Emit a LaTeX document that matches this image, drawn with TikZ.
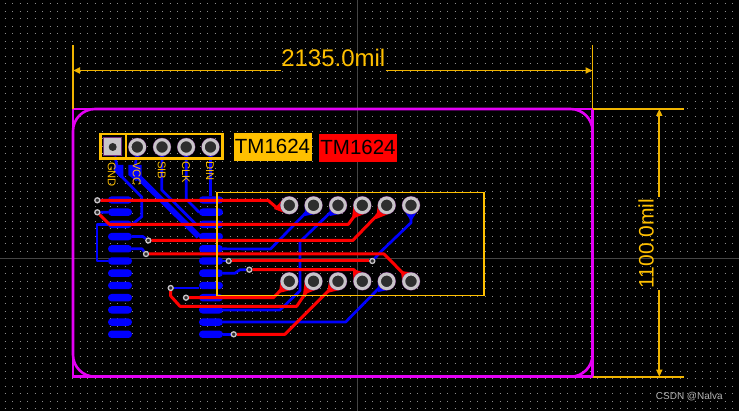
\documentclass[tikz,border=0pt]{standalone}
\usepackage{fontspec}
\setmainfont{Liberation Sans}
\usetikzlibrary{arrows.meta,calc}

\definecolor{silkyellow}{HTML}{FFC000}
\definecolor{dimyellow}{HTML}{F0B400}
\definecolor{boardmagenta}{HTML}{E400F4}
\definecolor{cublue}{HTML}{0000FF}
\definecolor{cured}{HTML}{FF0000}
\definecolor{padgray}{HTML}{C8C4C8}
\definecolor{holedark}{HTML}{2E2E2E}
\definecolor{padrim}{HTML}{70307C}
\definecolor{griddot}{HTML}{8C8C8C}
\definecolor{crossgray}{HTML}{444444}
\definecolor{marktext}{HTML}{B4B4B4}

\pgfdeclarelayer{grid}
\pgfdeclarelayer{bottomcu}
\pgfdeclarelayer{topcu}
\pgfsetlayers{grid,bottomcu,topcu,main}

\tikzset{
    griddots/.style={griddot, line width=1.2pt, dash pattern=on 1.2pt off 6.3pt},
    crosshair/.style={crossgray, line width=1pt},
    boardedge/.style={boardmagenta, line width=2.6pt},
    silk/.style={silkyellow, line width=2.2pt},
    outline/.style={silkyellow, line width=1.4pt},
    dimline/.style={dimyellow, line width=1.8pt},
    dimarrow/.style={dimline, -{Triangle[length=7pt,width=6pt]}},
    dimtext/.style={silkyellow, font=\fontsize{24}{24}\selectfont, inner sep=0pt},
    pintext/.style={silkyellow, font=\fontsize{11.2}{11.2}\selectfont, rotate=-90, anchor=west, inner sep=0pt},
    chiplabel/.style={black, font=\fontsize{20.5}{20.5}\selectfont, minimum width=78pt, minimum height=28pt, inner sep=0pt},
    pinpad/.style={circle, draw=padgray, fill=holedark, line width=3pt, minimum size=14.6pt, inner sep=0pt,
        preaction={draw=padrim, line width=3.8pt}},
    squarepad/.style={rectangle, draw=padrim, fill=padgray, line width=1pt, minimum size=18pt, inner sep=0pt},
    padhole/.style={circle, fill=holedark, minimum size=8pt, inner sep=0pt},
    viapad/.style={circle, draw=padgray, fill=holedark, line width=1.3pt, minimum size=5pt, inner sep=0pt},
    smdpad/.style={rectangle, fill=cublue, rounded corners=3.6pt, minimum width=24pt, minimum height=7.4pt, inner sep=0pt},
    bluetrace/.style={cublue, line width=2.7pt, line join=round},
    redtrace/.style={cured, line width=3pt, line join=round},
    vcctrace/.style={cublue, line width=5.6pt}
}

\newcommand{\teardrop}[3]{
    \fill[#1] (tangent cs:node=#2,point={#3},solution=1) -- #3
        -- (tangent cs:node=#2,point={#3},solution=2) -- cycle;
}

\begin{document}
\begin{tikzpicture}[x=1pt, y=-1pt]
        \useasboundingbox (0, 0) rectangle (739, 411);

        \begin{pgfonlayer}{grid}
            \fill[black] (0, 0) rectangle (739, 411);
            \foreach \k in {0, ..., 54} {
                \draw[griddots] (4.5, 3.7 + 7.5 * \k) -- (739, 3.7 + 7.5 * \k);
            }
            \draw[crosshair] (0, 259) -- (739, 259);
            \draw[crosshair] (357.7, 0) -- (357.7, 411);
        \end{pgfonlayer}

        \node[squarepad] (gnd) at (112.7, 147) {};
        \node[padhole] (gndhole) at (gnd) {};
        \node[pinpad] (vcc) at (137.3, 147) {};
        \node[pinpad] (sib) at (162, 147) {};
        \node[pinpad] (clk) at (186.2, 147) {};
        \node[pinpad] (din) at (210.5, 147) {};

        \foreach \n/\xpos in {1/289.3, 2/313.5, 3/338, 4/362.3, 5/386.7, 6/411} {
            \node[pinpad] (a\n) at (\xpos, 205.3) {};
            \node[pinpad] (b\n) at (\xpos, 281.3) {};
        }

        \node[viapad] (v1) at (97.3, 200.3) {};
        \node[viapad] (v2) at (97.3, 212.3) {};
        \node[viapad] (v3) at (148.3, 240.5) {};
        \node[viapad] (v4) at (146, 254) {};
        \node[viapad] (v5) at (228.7, 261) {};
        \node[viapad] (v6) at (249.3, 269.7) {};
        \node[viapad] (v7) at (170.7, 288) {};
        \node[viapad] (v8) at (186, 297.7) {};
        \node[viapad] (v9) at (233.7, 334.3) {};
        \node[viapad] (v10) at (372.3, 261) {};

        \begin{pgfonlayer}{bottomcu}
            \foreach \n/\ypos in {1/200, 2/212.2, 3/224.4, 4/236.6, 5/248.8, 6/261, 7/273.2, 8/285.5, 9/297.7, 10/309.9, 11/322.1, 12/334.3} {
                \node[smdpad] (l\n) at (120, \ypos) {};
                \node[smdpad] (r\n) at (211, \ypos) {};
            }

            \fill[cublue] (114, 165) -- (123.3, 165) -- (123.3, 177) -- (120.5, 178) -- (114, 171) -- cycle;
            \fill[cublue] (128.3, 165) -- (141.7, 165) -- (141.7, 178) -- (136, 181) -- (128.3, 175) -- cycle;
            \draw[bluetrace] (gnd) -- (118, 170);
            \draw[bluetrace] (vcc) -- (135, 170);
            \draw[vcctrace] (137, 175.5) -- (r4.west);
            \draw[bluetrace] (120, 175) -- (141.7, 197) -- (141.7, 216.7) -- (l3.east);

            \draw[bluetrace] (sib) -- (161.7, 190) -- (196, 224.4) -- (r3);
            \draw[bluetrace] (clk) -- (186.2, 199) -- (199, 212.2) -- (r2);
            \draw[bluetrace] (din) -- (din |- r1.north);
            \teardrop{cublue}{vcc}{(137.3, 158)}
            \teardrop{cublue}{sib}{(162, 158)}
            \teardrop{cublue}{clk}{(186.2, 158)}
            \teardrop{cublue}{din}{(210.5, 158)}

            \draw[bluetrace] (l3) -- (97, 224.4) -- (97, 261) -- (l6);
            \draw[bluetrace] (l1) -- (v1);
            \draw[bluetrace] (l2) -- (v2);
            \draw[bluetrace] (l4) -- (143, 236.6) -- (v3);
            \draw[bluetrace] (l5) -- (142, 248.8) -- (v4);

            \draw[bluetrace] (r5) -- (270.5, 249) -- (310, 208.5) -- (a2);
            \draw[bluetrace] (r6) -- (v5);
            \draw[bluetrace] (r7) -- (235, 273.2) -- (240, 269.7) -- (v6);
            \draw[bluetrace] (v7) -- (v7 -| r8.west);
            \draw[bluetrace] (r9) -- (v8);
            \draw[bluetrace] (r10) -- (280, 310) -- (300, 290.7) -- (300, 241.7) -- (332, 211) -- (a3);
            \draw[bluetrace] (r11) -- (345.7, 322) -- (380, 287) -- (b5);
            \draw[bluetrace] (r12) -- (v9);
            \draw[bluetrace] (a6) -- (411, 222.7) -- (380.5, 252) -- (v10);
            \teardrop{cublue}{a2}{(305, 216)}
            \teardrop{cublue}{a3}{(330, 216)}
            \teardrop{cublue}{a6}{(411, 221)}
            \teardrop{cublue}{b5}{(378, 292)}
        \end{pgfonlayer}

        \begin{pgfonlayer}{topcu}
            \draw[redtrace] (v1) -- (268, 200.3) -- (277, 208) -- (a1);
            \draw[redtrace] (v2) -- (109.3, 224.3) -- (348.3, 224.3) -- (a4);
            \draw[redtrace] (v3) -- (352.7, 240.5) -- (a5);
            \draw[redtrace] (v4) -- (384, 254) -- (b6);
            \draw[redtrace] (v5) -- (v10);
            \draw[redtrace] (v6) -- (354, 269.7) -- (b4);
            \draw[redtrace] (v8) -- (273.3, 297.7) -- (b1);
            \draw[redtrace] (v7) -- (170.7, 296) -- (180, 306.3) -- (296.7, 306.3) -- (b2);
            \draw[redtrace] (v9) -- (285, 334.3) -- (b3);
            \teardrop{cured}{a1}{(274, 209)}
            \teardrop{cured}{a4}{(352, 219)}
            \teardrop{cured}{a5}{(376, 219)}
            \teardrop{cured}{b1}{(279, 293)}
            \teardrop{cured}{b2}{(303, 295)}
            \teardrop{cured}{b3}{(327, 293)}
            \teardrop{cured}{b4}{(353, 269)}
            \teardrop{cured}{b6}{(401, 271)}
        \end{pgfonlayer}

        \draw[outline] (217, 192.3) rectangle (484, 295.7);
        \draw[silk] (100.5, 134) rectangle (222.5, 158.5);
        \draw[silk] (125.7, 134) -- (125.7, 158.5);

        \node[pintext] (gndtext) at (111.7, 162) {GND};
        \node[pintext] (vcctext) at (136.7, 162) {VCC};
        \node[pintext] (sibtext) at (161.7, 161) {SIB};
        \node[pintext] (clktext) at (186, 161) {CLK};
        \node[pintext] (dintext) at (210, 161) {DIN};

        \node[chiplabel, fill=silkyellow] (chipa) at (272.5, 146.7) {TM1624};
        \node[chiplabel, fill=cured] (chipb) at (358, 147.8) {TM1624};

        \draw[boardedge] (73, 109) rectangle (592.5, 376.7);
        \draw[boardedge, rounded corners=22pt] (73, 109) rectangle (592.5, 376.7);
        \coordinate (boardtl) at (73, 109);
        \coordinate (boardtr) at (592.5, 109);
        \coordinate (boardbr) at (592.5, 376.7);

        \coordinate (widthl) at (73, 70.5);
        \coordinate (widthr) at (592.5, 70.5);
        \coordinate (extl) at (73, 45.5);
        \coordinate (extr) at (592.5, 45.5);
        \node[dimtext] (widthtext) at (333.3, 57.5) {2135.0mil};
        \draw[dimline] (extl) -- (boardtl);
        \draw[dimline] (extr) -- (boardtr);
        \draw[dimarrow] (widthl -| widthtext.west) -- (widthl);
        \draw[dimarrow] (widthr -| widthtext.east) -- (widthr);

        \coordinate (heightt) at (659.3, 109);
        \coordinate (heightb) at (659.3, 376.7);
        \coordinate (extt) at (684, 109);
        \coordinate (extb) at (684, 376.7);
        \node[dimtext, rotate=90, inner xsep=2pt] (heighttext) at (646, 243.5) {\fontsize{21}{21}\selectfont 1100.0mil};
        \draw[dimline] (boardtr) -- (extt);
        \draw[dimline] (boardbr) -- (extb);
        \draw[dimarrow] (heightt |- heighttext.east) -- (heightt);
        \draw[dimarrow] (heightb |- heighttext.west) -- (heightb);

        \node[text=marktext, font=\fontsize{10}{10}\selectfont, inner sep=0pt] (mark) at (689.3, 396.3) {CSDN @Nalva};
    \end{tikzpicture}
\end{document}
